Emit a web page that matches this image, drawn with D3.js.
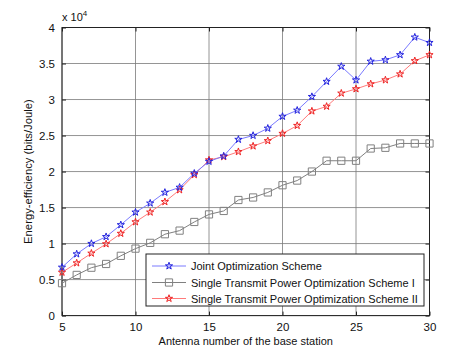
<!DOCTYPE html>
<html>
<head>
<meta charset="utf-8">
<script src="https://cdn.jsdelivr.net/npm/d3@7"></script>
<style>
  html, body { margin: 0; padding: 0; background: #fff; }
  svg { display: block; font-family: "Liberation Sans", Arial, sans-serif; }
</style>
</head>
<body>
<svg id="chart" width="474" height="355"></svg>
<script>
const antennas = d3.range(5, 31);
const jointScheme = [0.67, 0.855, 1.00, 1.095, 1.26, 1.435, 1.56, 1.71, 1.78, 1.975, 2.14,
  2.215, 2.445, 2.50, 2.60, 2.765, 2.85, 3.04, 3.25, 3.46, 3.27, 3.53, 3.55, 3.62, 3.865, 3.79];
const schemeI = [0.45, 0.565, 0.665, 0.717, 0.83, 0.93, 1.01, 1.13, 1.18, 1.30, 1.405,
  1.453, 1.605, 1.64, 1.71, 1.81, 1.875, 2.0, 2.15, 2.15, 2.15, 2.32, 2.33, 2.39, 2.39, 2.39];
const schemeII = [0.60, 0.73, 0.865, 0.995, 1.14, 1.30, 1.435, 1.58, 1.745, 1.955, 2.16,
  2.205, 2.275, 2.353, 2.427, 2.528, 2.638, 2.839, 2.904, 3.087, 3.147, 3.216, 3.271, 3.353, 3.537, 3.62];
const xTicks = [5, 10, 15, 20, 25, 30];
const yTicks = [0, 0.5, 1, 1.5, 2, 2.5, 3, 3.5, 4];
const seriesNames = ["Joint Optimization Scheme", "Single Transmit Power Optimization Scheme I", "Single Transmit Power Optimization Scheme II"];

const svg = d3.select("#chart");
const L = 62, R = 429.5, T = 27.5, B = 315.6;
const x = d3.scaleLinear().domain([5, 30]).range([L, R]);
const y = d3.scaleLinear().domain([0, 4]).range([B, T]);

// grid
const g = svg.append("g");
g.selectAll(".gx").data(xTicks).join("line")
  .attr("x1", d => x(d)).attr("x2", d => x(d)).attr("y1", T).attr("y2", B)
  .attr("stroke", "#7a7a7a").attr("stroke-width", 0.8);
g.selectAll(".gy").data(yTicks).join("line")
  .attr("y1", d => y(d)).attr("y2", d => y(d)).attr("x1", L).attr("x2", R)
  .attr("stroke", "#7a7a7a").attr("stroke-width", 0.8);

// axes
const fmt = d => d3.format("")(d);
svg.append("g").attr("transform", `translate(0,${B})`)
  .call(d3.axisBottom(x).tickValues(xTicks).tickSize(-4).tickPadding(7).tickFormat(fmt))
  .call(a => a.select(".domain").remove());
svg.append("g").attr("transform", `translate(0,${T})`)
  .call(d3.axisTop(x).tickValues(xTicks).tickSize(-4).tickFormat(""))
  .call(a => a.select(".domain").remove());
svg.append("g").attr("transform", `translate(${L},0)`)
  .call(d3.axisLeft(y).tickValues(yTicks).tickSize(-4).tickPadding(7).tickFormat(fmt))
  .call(a => a.select(".domain").remove());
svg.append("g").attr("transform", `translate(${R},0)`)
  .call(d3.axisRight(y).tickValues(yTicks).tickSize(-4).tickFormat(""))
  .call(a => a.select(".domain").remove());
svg.selectAll(".tick text").attr("font-size", 11.5).attr("fill", "#111")
  .attr("font-family", '"Liberation Sans", Arial, sans-serif');
svg.selectAll(".tick line").attr("stroke", "#222");

svg.append("rect").attr("x", L).attr("y", T).attr("width", R - L).attr("height", B - T)
  .attr("fill", "none").attr("stroke", "#222").attr("stroke-width", 1);

// exponent
const ex = svg.append("text").attr("x", 62).attr("y", 21).attr("font-size", 11).attr("fill", "#111");
ex.append("tspan").text("x 10");
ex.append("tspan").attr("dy", -5).attr("font-size", 8).text("4");

// axis labels
svg.append("text").attr("x", (L + R) / 2).attr("y", 345).attr("text-anchor", "middle")
  .attr("font-size", 11).attr("fill", "#111").text("Antenna number of the base station");
svg.append("text").attr("transform", `translate(31.5,${(T + B) / 2}) rotate(-90)`)
  .attr("text-anchor", "middle").attr("font-size", 11.3).attr("fill", "#111")
  .text("Energy-efficiency (bits/Joule)");

const star = d3.symbol().type(d3.symbolStar).size(16);
const square = d3.symbol().type(d3.symbolSquare).size(52);

function drawSeries(vals, lineColor, markColor, kind) {
  const data = antennas.map((a, i) => [a, vals[i]]);
  svg.append("path").datum(data)
    .attr("fill", "none").attr("stroke", lineColor).attr("stroke-width", 1)
    .attr("d", d3.line().x(d => x(d[0])).y(d => y(d[1])));
  svg.append("g").selectAll("path").data(data).join("path")
    .attr("transform", d => `translate(${x(d[0])},${y(d[1])})`)
    .attr("d", kind === "square" ? square : star)
    .attr("fill", "none").attr("stroke", markColor).attr("stroke-width", 1);
}
drawSeries(schemeI, "#808080", "#808080", "square");
drawSeries(schemeII, "#ff7a7a", "#ee2222", "star");
drawSeries(jointScheme, "#7a7aff", "#2222dd", "star");

// legend
const lg = svg.append("g");
lg.append("rect").attr("x", 146).attr("y", 254).attr("width", 278).attr("height", 52)
  .attr("fill", "#fff").attr("stroke", "#222").attr("stroke-width", 1);
const legendStyle = [
  { line: "#7a7aff", mark: "#2222dd", kind: "star" },
  { line: "#808080", mark: "#808080", kind: "square" },
  { line: "#ff7a7a", mark: "#ee2222", kind: "star" }
];
const rowsY = [266, 282.5, 298.5];
seriesNames.forEach((name, i) => {
  const s = legendStyle[i];
  lg.append("line").attr("x1", 152).attr("x2", 186).attr("y1", rowsY[i]).attr("y2", rowsY[i])
    .attr("stroke", s.line).attr("stroke-width", 1);
  lg.append("path").attr("transform", `translate(169,${rowsY[i]})`)
    .attr("d", s.kind === "square" ? square : star)
    .attr("fill", "none").attr("stroke", s.mark);
  lg.append("text").attr("x", 191).attr("y", rowsY[i] + 4).attr("font-size", 11)
    .attr("fill", "#111").text(name);
});
</script>
</body>
</html>
